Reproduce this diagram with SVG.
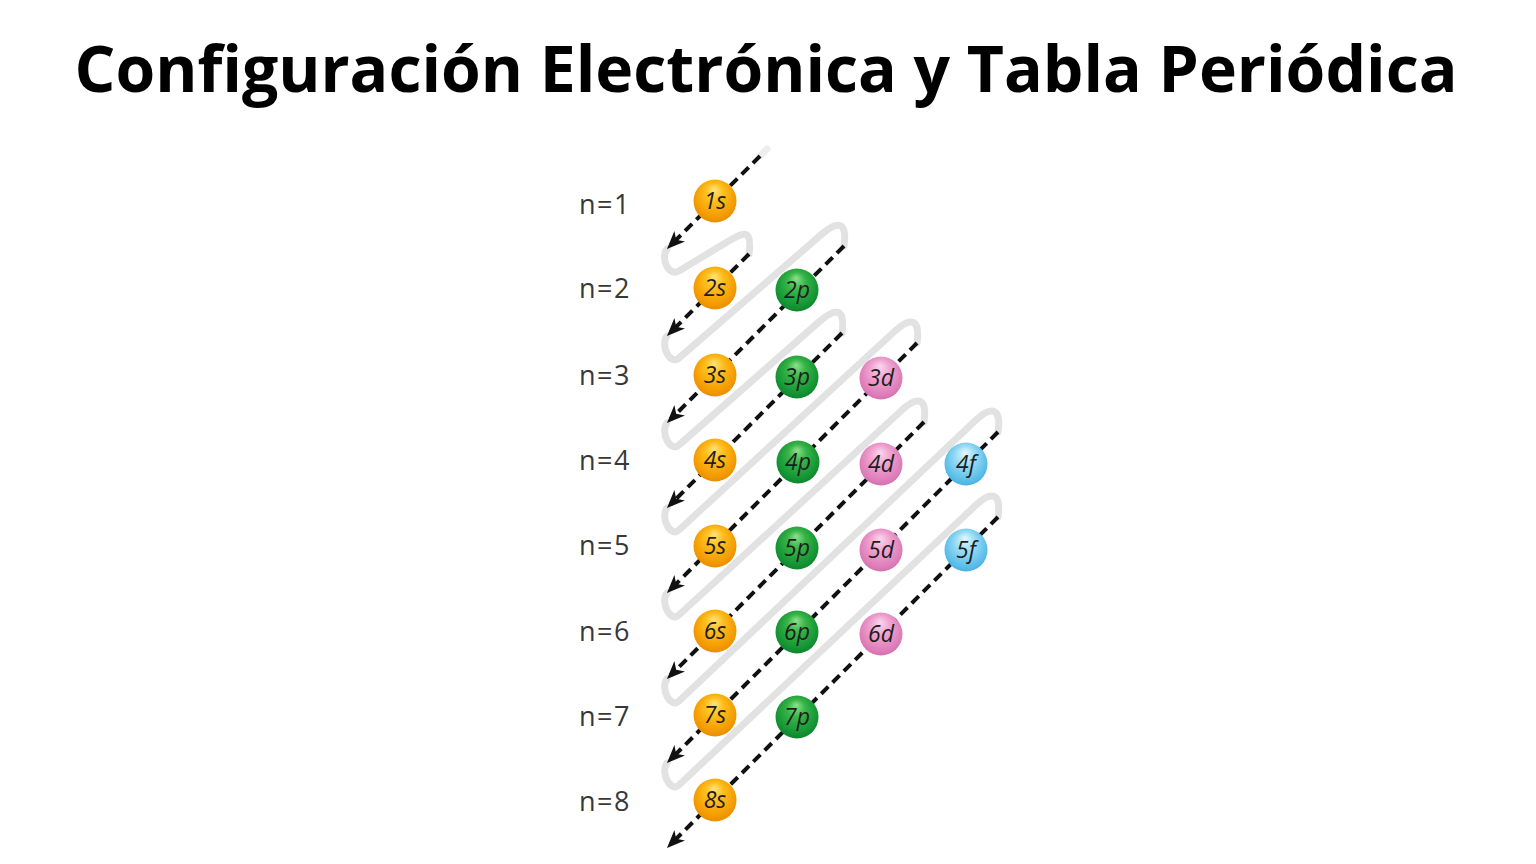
<svg xmlns="http://www.w3.org/2000/svg" width="1536" height="864" viewBox="0 0 1536 864">
<defs>
  <radialGradient id="gS" cx="50%" cy="45%" r="60%" fx="48%" fy="22%">
    <stop offset="0" stop-color="#ffe27a"/>
    <stop offset="0.35" stop-color="#ffbf1c"/>
    <stop offset="0.8" stop-color="#f39a00"/>
    <stop offset="1" stop-color="#e48700"/>
  </radialGradient>
  <radialGradient id="gP" cx="50%" cy="45%" r="60%" fx="48%" fy="22%">
    <stop offset="0" stop-color="#8ee08a"/>
    <stop offset="0.35" stop-color="#38b548"/>
    <stop offset="0.8" stop-color="#139534"/>
    <stop offset="1" stop-color="#0c7d2a"/>
  </radialGradient>
  <radialGradient id="gD" cx="50%" cy="45%" r="60%" fx="48%" fy="22%">
    <stop offset="0" stop-color="#fbd6ec"/>
    <stop offset="0.4" stop-color="#efa2d0"/>
    <stop offset="0.85" stop-color="#dc7ab7"/>
    <stop offset="1" stop-color="#cd68a7"/>
  </radialGradient>
  <radialGradient id="gF" cx="50%" cy="45%" r="60%" fx="48%" fy="22%">
    <stop offset="0" stop-color="#e2f7fd"/>
    <stop offset="0.4" stop-color="#96dbf5"/>
    <stop offset="0.85" stop-color="#55bbe7"/>
    <stop offset="1" stop-color="#40aadc"/>
  </radialGradient>
  <marker id="ah" markerUnits="userSpaceOnUse" markerWidth="19" markerHeight="15" viewBox="0 0 19 15" refX="13" refY="7.5" orient="auto">
    <path d="M0,0 L18,7.5 L0,15 L5,7.5 Z" fill="#111"/>
  </marker>
  <style>
    .title{font-family:"Open Sans","Liberation Sans",sans-serif;font-weight:700;font-size:64px;fill:#000}
    .n{font-family:"Open Sans","Liberation Sans",sans-serif;font-size:27px;letter-spacing:1.5px;fill:#383838;text-anchor:end}
    .lab{font-family:"Open Sans","Noto Sans","Liberation Sans",sans-serif;font-style:italic;font-weight:500;font-size:23px;fill:#1e1e1e;text-anchor:middle}
    .grey{fill:none;stroke:#e2e2e2;stroke-width:7;stroke-linecap:round;stroke-linejoin:round}
    .dash{fill:none;stroke:#111;stroke-width:4;stroke-dasharray:10 6;marker-end:url(#ah)}
    .s{fill:url(#gS)} .p{fill:url(#gP)} .d{fill:url(#gD)} .f{fill:url(#gF)}
  </style>
</defs>
<rect width="1536" height="864" fill="#fff"/>
<text class="title" x="766" y="92" text-anchor="middle" textLength="1383" lengthAdjust="spacingAndGlyphs">Configuración Electrónica y Tabla Periódica</text>

<g id="levels">
  <text class="n" x="631" y="214">n=1</text>
  <text class="n" x="631" y="298">n=2</text>
  <text class="n" x="631" y="385">n=3</text>
  <text class="n" x="631" y="470">n=4</text>
  <text class="n" x="631" y="555">n=5</text>
  <text class="n" x="631" y="641">n=6</text>
  <text class="n" x="631" y="726">n=7</text>
  <text class="n" x="631" y="811">n=8</text>
</g>

<g id="connectors">
  <g id="serpentine">
    <path class="grey" d="M767,149 L761,155" opacity="0.6"/>
    <path class="grey" d="M667,249 C660,258 668.7,277.2 679,271 L727,242 C741.6,233.2 753,226 749,254"/>
    <path class="grey" d="M667,336 C660,345 669.9,365.9 679,358 L822,234 C834.8,222.9 848,218 844,246"/>
    <path class="grey" d="M667,423 C660,432 670,452.9 679,445 L820,321 C832.8,309.8 846,305 842,333"/>
    <path class="grey" d="M667,508 C660,517 670.2,538.1 679,530 L895,331 C907.5,319.5 921,315 917,343"/>
    <path class="grey" d="M667,593 C660,602 670.2,623.1 679,615 L902,410 C914.5,398.5 928,394 924,422"/>
    <path class="grey" d="M667,679 C660,688 670.3,709.2 679,701 L976,420 C988.3,408.3 1002,404 998,432"/>
    <path class="grey" d="M667,763 C660,772 670.3,793.2 679,785 L976,505 C988.4,493.3 1002,489 998,517"/>
  </g>
  <g id="arrows">
    <path class="dash" d="M760,156 L670.5,245.5"/>
    <path class="dash" d="M749,254 L670.5,332.5"/>
    <path class="dash" d="M844,246 L670.5,419.5"/>
    <path class="dash" d="M842,333 L670.5,504.5"/>
    <path class="dash" d="M917,343 L670.5,589.5"/>
    <path class="dash" d="M924,422 L670.5,675.5"/>
    <path class="dash" d="M998,432 L670.5,759.5"/>
    <path class="dash" d="M998,517 L670.5,844.5"/>
  </g>
</g>

<g id="n1s"><circle class="s" cx="715" cy="201" r="21.5"/><text class="lab" x="715" y="209">1s</text></g>
<g id="n2s"><circle class="s" cx="715" cy="288" r="21.5"/><text class="lab" x="715" y="296">2s</text></g>
<g id="n2p"><circle class="p" cx="797" cy="290" r="21.5"/><text class="lab" x="797" y="298">2p</text></g>
<g id="n3s"><circle class="s" cx="715" cy="375" r="21.5"/><text class="lab" x="715" y="383">3s</text></g>
<g id="n3p"><circle class="p" cx="797" cy="377" r="21.5"/><text class="lab" x="797" y="385">3p</text></g>
<g id="n3d"><circle class="d" cx="881" cy="378" r="21.5"/><text class="lab" x="881" y="386">3d</text></g>
<g id="n4s"><circle class="s" cx="715" cy="460" r="21.5"/><text class="lab" x="715" y="468">4s</text></g>
<g id="n4p"><circle class="p" cx="798" cy="462" r="21.5"/><text class="lab" x="798" y="470">4p</text></g>
<g id="n4d"><circle class="d" cx="881" cy="464" r="21.5"/><text class="lab" x="881" y="472">4d</text></g>
<g id="n4f"><circle class="f" cx="966" cy="464" r="21.5"/><text class="lab" x="966" y="472">4f</text></g>
<g id="n5s"><circle class="s" cx="715" cy="546" r="21.5"/><text class="lab" x="715" y="554">5s</text></g>
<g id="n5p"><circle class="p" cx="797" cy="548" r="21.5"/><text class="lab" x="797" y="556">5p</text></g>
<g id="n5d"><circle class="d" cx="881" cy="550" r="21.5"/><text class="lab" x="881" y="558">5d</text></g>
<g id="n5f"><circle class="f" cx="966" cy="550" r="21.5"/><text class="lab" x="966" y="558">5f</text></g>
<g id="n6s"><circle class="s" cx="715" cy="631" r="21.5"/><text class="lab" x="715" y="639">6s</text></g>
<g id="n6p"><circle class="p" cx="797" cy="632" r="21.5"/><text class="lab" x="797" y="640">6p</text></g>
<g id="n6d"><circle class="d" cx="881" cy="634" r="21.5"/><text class="lab" x="881" y="642">6d</text></g>
<g id="n7s"><circle class="s" cx="715" cy="715" r="21.5"/><text class="lab" x="715" y="723">7s</text></g>
<g id="n7p"><circle class="p" cx="797" cy="717" r="21.5"/><text class="lab" x="797" y="725">7p</text></g>
<g id="n8s"><circle class="s" cx="715" cy="800" r="21.5"/><text class="lab" x="715" y="808">8s</text></g>
</svg>
